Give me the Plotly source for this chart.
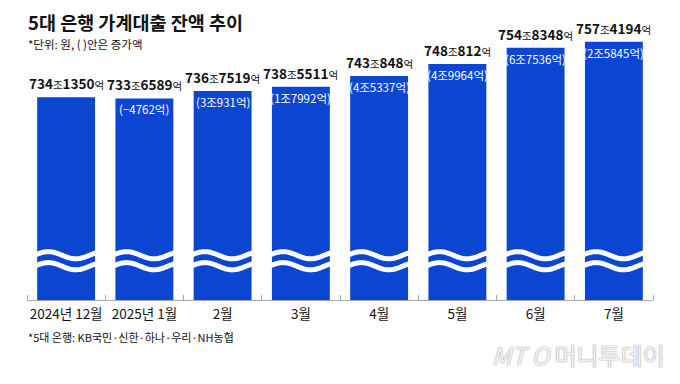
import math
import plotly.graph_objects as go

# ---- data ----
months = ["2024년 12월", "2025년 1월", "2월", "3월", "4월", "5월", "6월", "7월"]
balance_jo = [734, 733, 736, 738, 743, 748, 754, 757]
balance_eok = [1350, 6589, 7519, 5511, 848, 812, 8348, 4194]
change_text = [None, "−4762억", "3조931억", "1조7992억", "4조5337억",
               "4조9964억", "6조7536억", "2조5845억"]

values = [j + e / 10000 for j, e in zip(balance_jo, balance_eok)]

# ---- style ----
BLUE = "#0B46D2"
FONT = "Noto Sans CJK KR, sans-serif"
Y_RANGE = [649.25, 762.3]
BAR_W = 0.74
WAVE_LEVELS = [668.0, 663.4]
WAVE_AMP = 1.5

# page has an 8px body margin: figure is offset by (8, 8)
OFF = 8
W, H = 680 - OFF, 384 - OFF
ML, MR, MT, MB = 27 - OFF, 680 - 653, 30 - OFF, 384 - 300

fig = go.Figure()
fig.add_trace(go.Bar(
    x=list(range(len(months))), y=values, width=BAR_W,
    marker=dict(color=BLUE, line=dict(width=0)),
    hoverinfo="skip", showlegend=False,
))

# wavy break marks on each bar
for i in range(len(months)):
    n = 60
    xs, ys_all = [], [[] for _ in WAVE_LEVELS]
    for k in range(n + 1):
        t = -0.04 + 1.08 * k / n
        xs.append(i - BAR_W / 2 + t * BAR_W)
        for w, lvl in enumerate(WAVE_LEVELS):
            ys_all[w].append(lvl + WAVE_AMP * math.sin(2 * math.pi * t / 0.95 + 0.3))
    for ys in ys_all:
        fig.add_trace(go.Scatter(x=xs, y=ys, mode="lines",
                                 line=dict(color="white", width=5, shape="spline"),
                                 hoverinfo="skip", showlegend=False))

annotations = []
for i, (j, e, v) in enumerate(zip(balance_jo, balance_eok, values)):
    txt = (f"<b>{j}</b><span style='font-size:10.5px'>조</span>"
           f"<b>{e}</b><span style='font-size:10.5px'>억</span>")
    annotations.append(dict(x=i, y=v, xref="x", yref="y", text=txt, showarrow=False,
                            yanchor="middle", yshift=14,
                            font=dict(family=FONT, size=13.5, color="#111")))
    if change_text[i]:
        annotations.append(dict(x=i, y=v, xref="x", yref="y", text=f"({change_text[i]})",
                                showarrow=False, yanchor="middle", yshift=-11,
                                font=dict(family=FONT, size=11.5, color="white")))

paper_notes = [
    dict(x=27, y=8, text="<b>5대 은행 가계대출 잔액 추이</b>", xanchor="left",
         yanchor="top", font=dict(family=FONT, size=18.5, color="#111")),
    dict(x=27, y=44, text="*단위: 원, ( )안은 증가액", xanchor="left",
         yanchor="middle", font=dict(family=FONT, size=11.5, color="#111")),
    dict(x=27, y=337, text="*5대 은행: KB국민·신한·하나·우리·NH농협", xanchor="left",
         yanchor="middle", font=dict(family=FONT, size=11, color="#111")),
    dict(x=666, y=354, text="<i>MT</i> <i>O</i> 머니투데이", xanchor="right",
         yanchor="middle",
         font=dict(family=FONT, size=24, color="#f2f2f2", shadow="0px 0px 1.5px #777")),
]
for a in paper_notes:
    a.update(xref="paper", yref="paper", showarrow=False, borderpad=0)
    a["x"] = (a["x"] - OFF - ML) / (W - ML - MR)
    a["y"] = (H - MB - (a["y"] - OFF)) / (H - MT - MB)
    annotations.append(a)

fig.update_layout(
    width=W, height=H,
    margin=dict(l=ML, r=MR, t=MT, b=MB),
    paper_bgcolor="white", plot_bgcolor="white",
    showlegend=False,
    annotations=annotations,
    xaxis=dict(range=[-0.5, len(months) - 0.5], tickvals=list(range(len(months))),
               ticktext=months, ticks="", showgrid=False, zeroline=False,
               showline=True, linecolor="#aaaaaa", linewidth=1,
               tickfont=dict(family=FONT, size=13.5, color="#111"),
               ticklabelstandoff=2,
               minor=dict(tickvals=[k - 0.5 for k in range(len(months) + 1)],
                          ticks="inside", ticklen=5, tickcolor="#aaaaaa", tickwidth=1),
               fixedrange=True),
    yaxis=dict(range=Y_RANGE, visible=False, fixedrange=True),
)

fig.write_html("out.html")
